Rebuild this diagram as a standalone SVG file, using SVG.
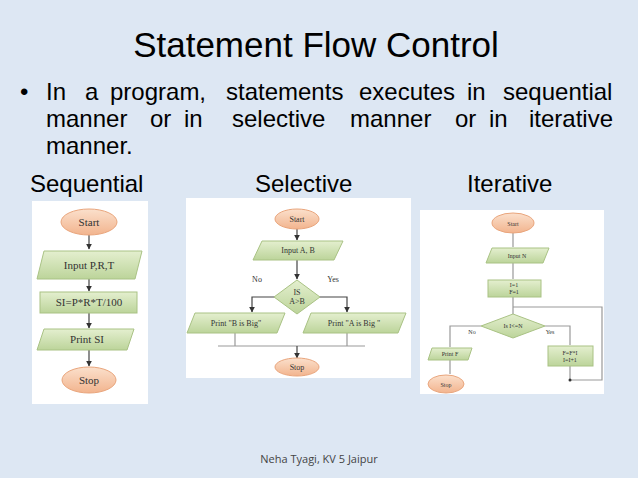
<svg xmlns="http://www.w3.org/2000/svg" width="638" height="478" viewBox="0 0 638 478">
<defs>
<linearGradient id="og" x1="0" y1="0" x2="0" y2="1"><stop offset="0" stop-color="#fbe0cc"/><stop offset="1" stop-color="#f2b48e"/></linearGradient>
<linearGradient id="gg" x1="0" y1="0" x2="0" y2="1"><stop offset="0" stop-color="#e4efcf"/><stop offset="1" stop-color="#bcd49a"/></linearGradient>
<marker id="a" viewBox="0 0 10 10" refX="9" refY="5" markerWidth="5" markerHeight="5" orient="auto"><path d="M0,0L10,5L0,10z" fill="#333"/></marker>
</defs>
<style>
.t{font-family:"Liberation Sans",Arial,sans-serif;fill:#000}
.f{font-family:"Liberation Serif","Times New Roman",serif;fill:#333;text-anchor:middle}
.o{fill:url(#og);stroke:#e9a57c;stroke-width:1}
.g{fill:url(#gg);stroke:#a9c284;stroke-width:1}
.c{stroke:#444;stroke-width:1.2;fill:none}
.l{stroke:#999;stroke-width:1.2;fill:none}
</style>
<rect width="638" height="478" fill="#dde7f3"/>
<text class="t" x="316" y="57" font-size="35" text-anchor="middle">Statement Flow Control</text>
<text class="t" x="20" y="100" font-size="24">•</text>
<text class="t" y="100" font-size="24"><tspan x="46">In</tspan><tspan x="85">a</tspan><tspan x="110">program,</tspan><tspan x="226">statements</tspan><tspan x="359">executes</tspan><tspan x="467">in</tspan><tspan x="503">sequential</tspan></text>
<text class="t" y="127" font-size="24"><tspan x="46">manner</tspan><tspan x="150">or</tspan><tspan x="184">in</tspan><tspan x="232">selective</tspan><tspan x="350">manner</tspan><tspan x="455">or</tspan><tspan x="489">in</tspan><tspan x="529">iterative</tspan></text>
<text class="t" x="46" y="154" font-size="24">manner.</text>
<text class="t" x="30" y="192" font-size="24">Sequential</text>
<text class="t" x="255" y="192" font-size="24">Selective</text>
<text class="t" x="467" y="192" font-size="24">Iterative</text>
<text x="319" y="463" font-size="11" text-anchor="middle" fill="#444" font-family="'Open Sans',sans-serif">Neha Tyagi, KV 5 Jaipur</text>

<rect x="32" y="201" width="116" height="203" fill="#fff"/>
<rect x="186" y="198" width="225" height="180" fill="#fff"/>
<rect x="420" y="210" width="184" height="184" fill="#fff"/>

<g id="connectors">
<path class="c" d="M89 235V249" marker-end="url(#a)"/>
<path class="c" d="M89 279V291" marker-end="url(#a)"/>
<path class="c" d="M89 313V328" marker-end="url(#a)"/>
<path class="c" d="M89 350V366" marker-end="url(#a)"/>

<path class="c" d="M297 229V240" marker-end="url(#a)"/>
<path class="c" d="M297 260V279" marker-end="url(#a)"/>
<path class="c" d="M275 297H252V312" marker-end="url(#a)"/>
<path class="c" d="M319 297H347V312" marker-end="url(#a)"/>
<path class="l" d="M235 333V346M347 333V346M218 346H365"/>
<path class="c" d="M297 346V358" marker-end="url(#a)"/>

<path class="l" d="M513 233V247M513 263V279M513 297V314M513 307H602V380H570"/>
<path class="l" d="M481 326H450V347M545 326H570V345M570 366V380M450 360V374"/>
<circle cx="570" cy="380" r="1.5" fill="#333"/>
</g>

<g id="s-start"><ellipse class="o" cx="89" cy="222" rx="28" ry="13"/><text class="f" x="89" y="226" font-size="11">Start</text></g>
<g id="s-input"><polygon class="g" points="44,251 142,251 135,279 37,279"/><text class="f" x="89" y="269" font-size="11">Input P,R,T</text></g>
<g id="s-si"><rect class="g" x="40" y="292" width="97" height="21"/><text class="f" x="89" y="306" font-size="11">SI=P*R*T/100</text></g>
<g id="s-print"><polygon class="g" points="44,329 134,329 127,350 37,350"/><text class="f" x="87" y="343" font-size="11">Print SI</text></g>
<g id="s-stop"><ellipse class="o" cx="89" cy="380" rx="27" ry="13"/><text class="f" x="89" y="384" font-size="11">Stop</text></g>

<g id="sel-start"><ellipse class="o" cx="297" cy="219" rx="22" ry="10"/><text class="f" x="297" y="222" font-size="8">Start</text></g>
<g id="sel-input"><polygon class="g" points="262,241 343,241 334,260 253,260"/><text class="f" x="298" y="253" font-size="8">Input  A, B</text></g>
<g id="sel-dec"><polygon class="g" points="297,280 320,297 297,314 274,297"/><text class="f" x="297" y="295" font-size="8">IS</text><text class="f" x="297" y="304" font-size="8">A&gt;B</text></g>
<text class="f" x="257" y="282" font-size="8">No</text>
<text class="f" x="333" y="282" font-size="8">Yes</text>
<g id="sel-b"><polygon class="g" points="195,313 285,313 277,333 187,333"/><text class="f" x="236" y="326" font-size="8">Print "B is Big"</text></g>
<g id="sel-a"><polygon class="g" points="311,313 406,313 398,333 303,333"/><text class="f" x="354" y="326" font-size="8">Print "A is Big "</text></g>
<g id="sel-stop"><ellipse class="o" cx="297" cy="367" rx="22" ry="9"/><text class="f" x="297" y="370" font-size="8">Stop</text></g>

<g id="i-start"><ellipse class="o" cx="513" cy="223" rx="21" ry="10"/><text class="f" x="513" y="226" font-size="6">Start</text></g>
<g id="i-input"><polygon class="g" points="492,248 549,248 543,263 486,263"/><text class="f" x="517" y="258" font-size="6">Input N</text></g>
<g id="i-init"><rect class="g" x="488" y="280" width="53" height="17"/><text class="f" x="514" y="287" font-size="6">I=1</text><text class="f" x="514" y="294" font-size="6">F=1</text></g>
<g id="i-dec"><polygon class="g" points="513,314 545,326 513,338 481,326"/><text class="f" x="513" y="328" font-size="6">Is I&lt;=N</text></g>
<text class="f" x="472" y="334" font-size="6">No</text>
<text class="f" x="550" y="334" font-size="6">Yes</text>
<g id="i-print"><polygon class="g" points="432,348 472,348 468,360 428,360"/><text class="f" x="450" y="356" font-size="6">Print F</text></g>
<g id="i-body"><rect class="g" x="548" y="346" width="45" height="20"/><text class="f" x="570" y="355" font-size="6">F=F*I</text><text class="f" x="570" y="362" font-size="6">I=I+1</text></g>
<g id="i-stop"><ellipse class="o" cx="446" cy="384" rx="18" ry="9"/><text class="f" x="446" y="387" font-size="6">Stop</text></g>
</svg>
